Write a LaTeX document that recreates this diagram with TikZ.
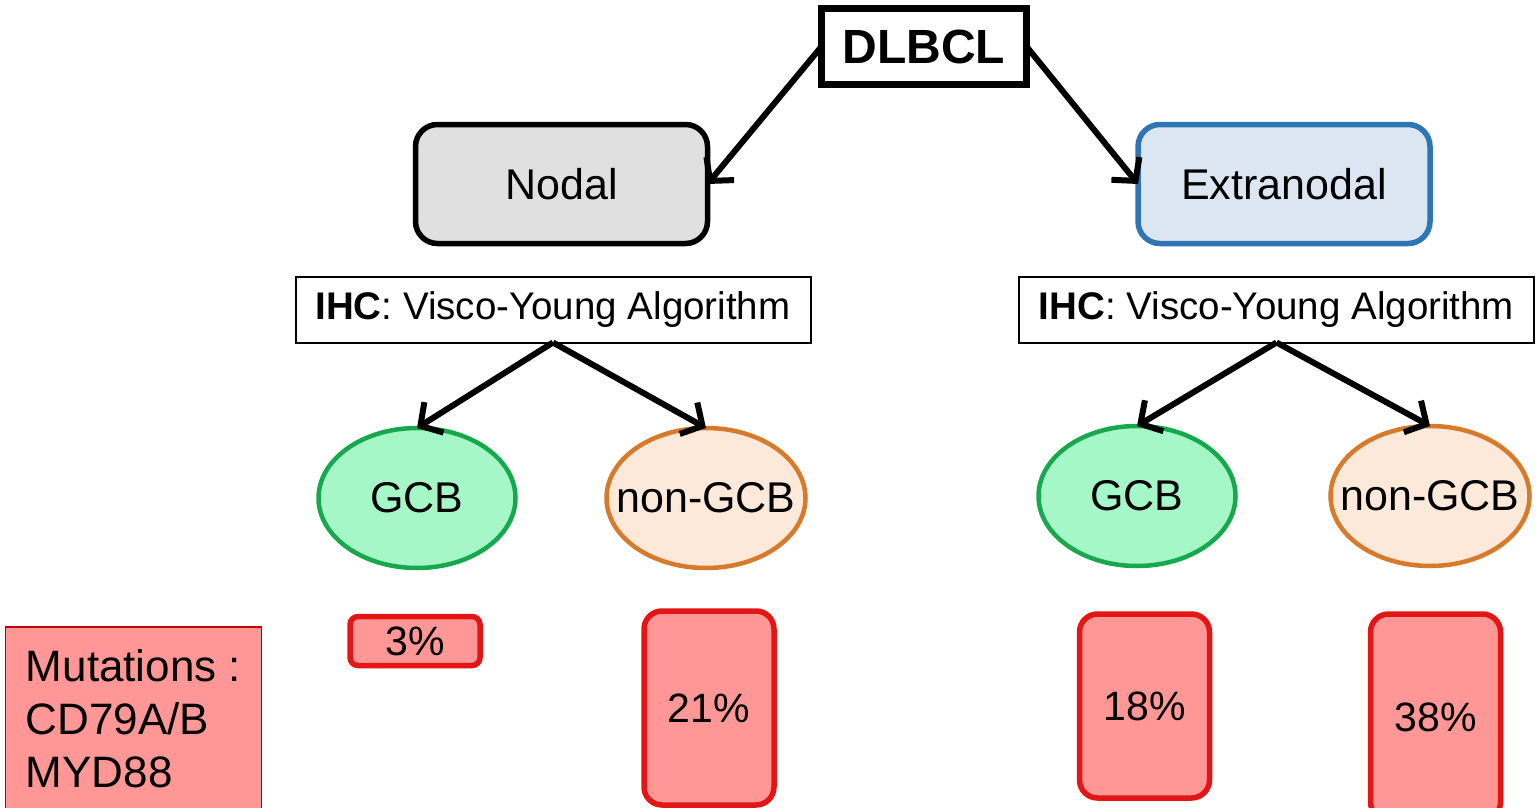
\documentclass[tikz,border=0pt]{standalone}
\usepackage{fontspec}
\setmainfont{Liberation Sans}
\usetikzlibrary{shapes.geometric,arrows.meta}
\definecolor{grayfill}{HTML}{E0E0E0}
\definecolor{bluefill}{HTML}{DCE6F2}
\definecolor{blueline}{HTML}{2E75B6}
\definecolor{greenfill}{HTML}{A6F7C8}
\definecolor{greenline}{HTML}{17A84E}
\definecolor{orangefill}{HTML}{FDE9D9}
\definecolor{orangeline}{HTML}{D87A2B}
\definecolor{redfill}{HTML}{FF9797}
\definecolor{redline}{HTML}{E31515}
\definecolor{darkred}{HTML}{C00000}
\begin{document}
\begin{tikzpicture}[x=1pt,y=-1pt,
  every node/.style={inner sep=0pt,outer sep=0pt},
  topbox/.style={draw=black,line width=7pt,fill=white,minimum width=205pt,minimum height=76pt,font=\fontsize{48}{56}\selectfont\bfseries},
  catbox/.style={line width=5.5pt,rounded corners=22pt,minimum width=292pt,minimum height=119pt,font=\fontsize{43}{50}\selectfont},
  ihcbox/.style={draw=black,line width=2pt,fill=white,minimum width=515pt,minimum height=66pt,font=\fontsize{38.5}{46}\selectfont},
  gcbell/.style={ellipse,draw=greenline,fill=greenfill,line width=4.5pt,minimum width=197pt,minimum height=140pt,font=\fontsize{43}{50}\selectfont},
  ngcbell/.style={ellipse,draw=orangeline,fill=orangefill,line width=4.5pt,inner xsep=-40pt,minimum width=199pt,minimum height=140pt,font=\fontsize{43}{50}\selectfont},
  pctbox/.style={draw=redline,fill=redfill,line width=5.5pt,rounded corners=18pt,minimum width=130pt,font=\fontsize{41}{48}\selectfont},
  arr/.style={line width=6pt,-{Straight Barb[length=16pt,width=36pt]}}
]
\useasboundingbox (0,0) rectangle (1539,808);
\fill[white] (0,0) rectangle (1539,808);

\node[topbox] (dlbcl) at (924,46.5) {DLBCL};
\node[catbox,draw=black,fill=grayfill] (nodal) at (561.5,184) {Nodal};
\node[catbox,draw=blueline,fill=bluefill] (extra) at (1284,184) {Extranodal};

\node[ihcbox] (ihcl) at (553,309.5) {\textbf{IHC}: Visco-Young Algorithm};
\node[ihcbox] (ihcr) at (1276.5,309.5) {\textbf{IHC}: Visco-Young Algorithm};

\node[gcbell] (gcbl) at (417,498) {GCB};
\node[ngcbell] (ngcbl) at (706,498) {non-GCB};
\node[gcbell] (gcbr) at (1137,496) {GCB};
\node[ngcbell] (ngcbr) at (1430,496) {non-GCB};

\node[pctbox,rounded corners=8pt,minimum height=49pt] (p3) at (415,641) {3\%};
\node[pctbox,minimum height=194pt] (p21) at (709,708) {21\%};
\node[pctbox,minimum height=184pt] (p18) at (1144.5,706) {18\%};
\node[pctbox,minimum height=206pt] (p38) at (1435.5,717) {38\%};

\node[draw=darkred,line width=1.8pt,fill=redfill,minimum width=256pt,minimum height=184pt,
      font=\fontsize{44}{53}\selectfont,align=left] (mut) at (133.5,719) {Mutations :\\CD79A/B\\MYD88};

\draw[arr] (dlbcl.west) -- (nodal.east);
\draw[arr] (dlbcl.east) -- (extra.west);
\draw[arr] (ihcl.south) -- (gcbl.north);
\draw[arr] (ihcl.south) -- (ngcbl.north);
\draw[arr] (ihcr.south) -- (gcbr.north);
\draw[arr] (ihcr.south) -- (ngcbr.north);
\end{tikzpicture}
\end{document}
